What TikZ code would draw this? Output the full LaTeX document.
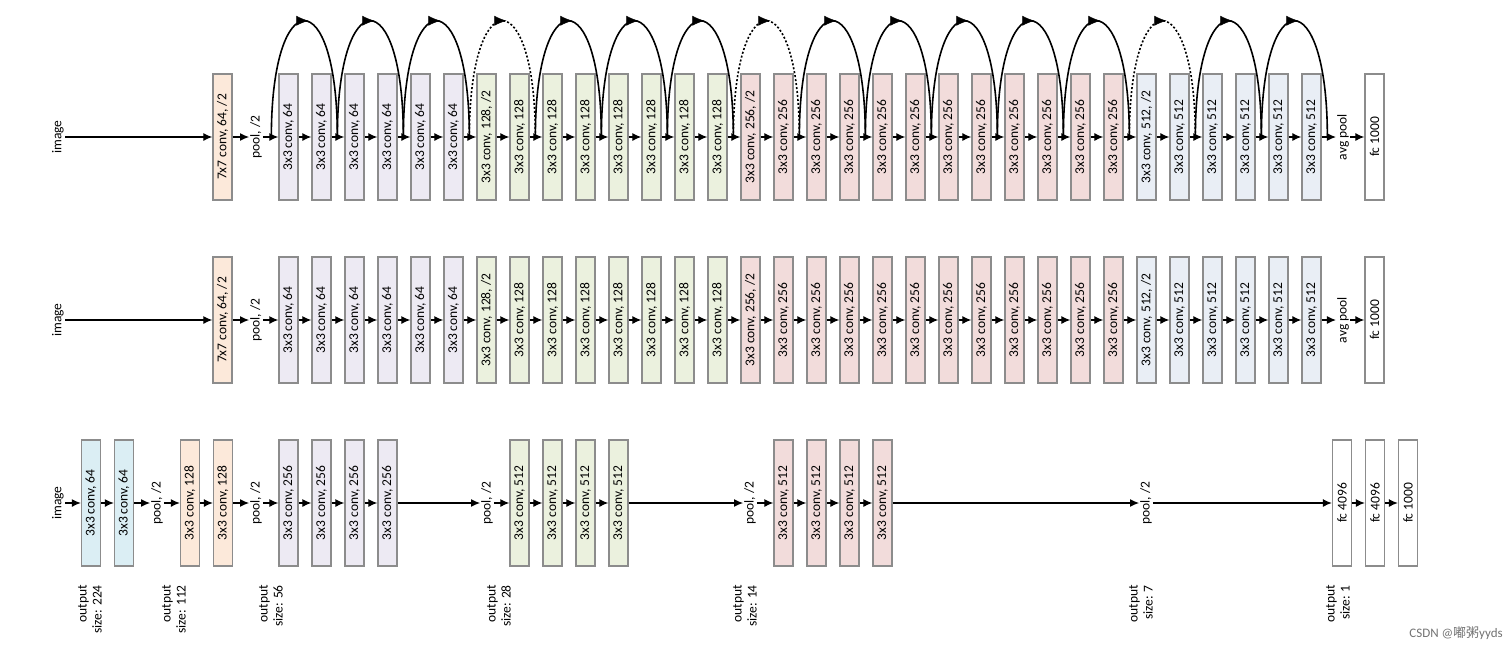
\documentclass[tikz,border=0pt]{standalone}
\usepackage{fontspec}
\setmainfont{Carlito}
\newfontfamily\cjk{Noto Sans CJK SC}
\usetikzlibrary{arrows.meta,calc}
\definecolor{boxgray}{HTML}{8C8C8C}
\definecolor{pur}{HTML}{EDEAF3}
\definecolor{org}{HTML}{FCE9DA}
\definecolor{grn}{HTML}{EBF1DE}
\definecolor{red}{HTML}{F2DCDB}
\definecolor{blu}{HTML}{E9EEF5}
\definecolor{cyan}{HTML}{DBEEF4}
\def\convlist{{3x3 conv, 64}/pur,{3x3 conv, 64}/pur,{3x3 conv, 64}/pur,{3x3 conv, 64}/pur,{3x3 conv, 64}/pur,{3x3 conv, 64}/pur,%
{3x3 conv, 128, /2}/grn,{3x3 conv, 128}/grn,{3x3 conv, 128}/grn,{3x3 conv, 128}/grn,{3x3 conv, 128}/grn,{3x3 conv, 128}/grn,{3x3 conv, 128}/grn,{3x3 conv, 128}/grn,%
{3x3 conv, 256, /2}/red,{3x3 conv, 256}/red,{3x3 conv, 256}/red,{3x3 conv, 256}/red,{3x3 conv, 256}/red,{3x3 conv, 256}/red,{3x3 conv, 256}/red,{3x3 conv, 256}/red,{3x3 conv, 256}/red,{3x3 conv, 256}/red,{3x3 conv, 256}/red,{3x3 conv, 256}/red,%
{3x3 conv, 512, /2}/blu,{3x3 conv, 512}/blu,{3x3 conv, 512}/blu,{3x3 conv, 512}/blu,{3x3 conv, 512}/blu,{3x3 conv, 512}/blu}
\begin{document}
\begin{tikzpicture}[x=1pt,y=-1pt,
  box/.style={draw=boxgray,line width=1.3pt,minimum width=19pt,minimum height=126pt,inner sep=0pt,font=\fontsize{13.5}{15}\selectfont},
  lab/.style={inner sep=1pt,font=\fontsize{13.5}{15}\selectfont},
  arr/.style={line width=1.2pt,-{Latex[length=9pt,width=8pt]}},
  skip/.style={line width=1.6pt},
  dskip/.style={skip,dash pattern=on 2pt off 2pt},
  tip/.style={-{Latex[length=12pt,width=10pt]},shorten >=-4pt}]
\useasboundingbox (0,0) rectangle (1510,646);
% ---------- rows 1 and 2 ----------
\foreach \r/\y in {1/137,2/320}{
  \node[lab] (r\r img) at (58,\y) {\rotatebox{90}{image}};
  \node[box,fill=org] (r\r c7) at (222.5,\y) {\rotatebox{90}{7x7 conv, 64, /2}};
  \node[lab] (r\r pool) at (256,\y) {\rotatebox{90}{pool, /2}};
  \foreach \t/\c [count=\i from 0] in \convlist {
    \node[box,fill=\c] (r\r b\i) at (288.5+33*\i,\y) {\rotatebox{90}{\t}};
  }
  \node[lab] (r\r avg) at (1343,\y) {\rotatebox{90}{avg pool}};
  \node[box,fill=white] (r\r fc) at (1374.5,\y) {\rotatebox{90}{fc 1000}};
  \draw[arr] (r\r img) -- (r\r c7);
  \draw[arr] (r\r c7) -- (r\r pool);
  \draw[arr] (r\r pool) -- (r\r b0);
  \foreach \i in {0,...,30}{
    \pgfmathtruncatemacro\j{\i+1}
    \draw[arr] (r\r b\i) -- (r\r b\j);
  }
  \draw[arr] (r\r b31) -- (r\r avg);
  \draw[arr] (r\r avg) -- (r\r fc);
}
% ---------- shortcuts ----------
\foreach \k in {0,...,14}{
  \pgfmathtruncatemacro\a{2*\k}
  \coordinate (s\k) at ($(r1b\a.west)+(-7,0)$);
}
\coordinate (s15) at ($(r1b30.west)+(-7,0)$);
\foreach \k/\st in {0/skip,1/skip,2/skip,3/dskip,4/skip,5/skip,6/skip,7/dskip,8/skip,9/skip,10/skip,11/skip,12/skip,13/dskip,14/skip,15/skip}{
  \coordinate (m\k) at ($(s\k)+(33,-116.25)$);
  \coordinate (e\k) at ($(s\k)+(66,0)$);
  \draw[\st] (s\k) .. controls ($(s\k)+(0,-77.5)$) and ($(s\k)+(16.5,-116.25)$) .. (m\k)
             .. controls ($(s\k)+(49.5,-116.25)$) and ($(s\k)+(66,-77.5)$) .. (e\k);
  \draw[tip] ($(m\k)+(-2,0)$) -- (m\k);
}
% ---------- row 3 (VGG) ----------
\def\y{503}
\node[lab] (v img) at (58,\y) {\rotatebox{90}{image}};
\node[box,fill=cyan] (v1) at (91,\y) {\rotatebox{90}{3x3 conv, 64}};
\node[box,fill=cyan] (v2) at (124,\y) {\rotatebox{90}{3x3 conv, 64}};
\node[lab] (vp1) at (157,\y) {\rotatebox{90}{pool, /2}};
\node[box,fill=org] (v3) at (190,\y) {\rotatebox{90}{3x3 conv, 128}};
\node[box,fill=org] (v4) at (223,\y) {\rotatebox{90}{3x3 conv, 128}};
\node[lab] (vp2) at (256,\y) {\rotatebox{90}{pool, /2}};
\node[box,fill=pur] (v5) at (288.5,\y) {\rotatebox{90}{3x3 conv, 256}};
\node[box,fill=pur] (v6) at (321.5,\y) {\rotatebox{90}{3x3 conv, 256}};
\node[box,fill=pur] (v7) at (354.5,\y) {\rotatebox{90}{3x3 conv, 256}};
\node[box,fill=pur] (v8) at (387.5,\y) {\rotatebox{90}{3x3 conv, 256}};
\node[lab] (vp3) at (487,\y) {\rotatebox{90}{pool, /2}};
\node[box,fill=grn] (v9) at (519.5,\y) {\rotatebox{90}{3x3 conv, 512}};
\node[box,fill=grn] (v10) at (552.5,\y) {\rotatebox{90}{3x3 conv, 512}};
\node[box,fill=grn] (v11) at (585.5,\y) {\rotatebox{90}{3x3 conv, 512}};
\node[box,fill=grn] (v12) at (618.5,\y) {\rotatebox{90}{3x3 conv, 512}};
\node[lab] (vp4) at (750,\y) {\rotatebox{90}{pool, /2}};
\node[box,fill=red] (v13) at (783.5,\y) {\rotatebox{90}{3x3 conv, 512}};
\node[box,fill=red] (v14) at (816.5,\y) {\rotatebox{90}{3x3 conv, 512}};
\node[box,fill=red] (v15) at (849.5,\y) {\rotatebox{90}{3x3 conv, 512}};
\node[box,fill=red] (v16) at (882.5,\y) {\rotatebox{90}{3x3 conv, 512}};
\node[lab] (vp5) at (1146,\y) {\rotatebox{90}{pool, /2}};
\node[box,fill=white] (v17) at (1342,\y) {\rotatebox{90}{fc 4096}};
\node[box,fill=white] (v18) at (1375,\y) {\rotatebox{90}{fc 4096}};
\node[box,fill=white] (v19) at (1408,\y) {\rotatebox{90}{fc 1000}};
\foreach \a/\b in {v img/v1,v1/v2,v2/vp1,vp1/v3,v3/v4,v4/vp2,vp2/v5,v5/v6,v6/v7,v7/v8,v8/vp3,vp3/v9,v9/v10,v10/v11,v11/v12,v12/vp4,vp4/v13,v13/v14,v14/v15,v15/v16,v16/vp5,vp5/v17,v17/v18,v18/v19}
  \draw[arr] (\a) -- (\b);
\foreach \x/\s [count=\n] in {91/224,175/112,272/56,500/28,746/14,1142/7,1339/1}
  \node[lab,anchor=north] (o\n) at (\x,584) {\rotatebox{90}{\begin{tabular}{@{}r@{}}output\\size: \s\end{tabular}}};
\node[anchor=south east,inner sep=2pt,text=black!55,font=\fontsize{13}{15}\selectfont] (wm) at (1505,642) {CSDN @{\cjk 嘟粥}yyds};
\end{tikzpicture}
\end{document}
